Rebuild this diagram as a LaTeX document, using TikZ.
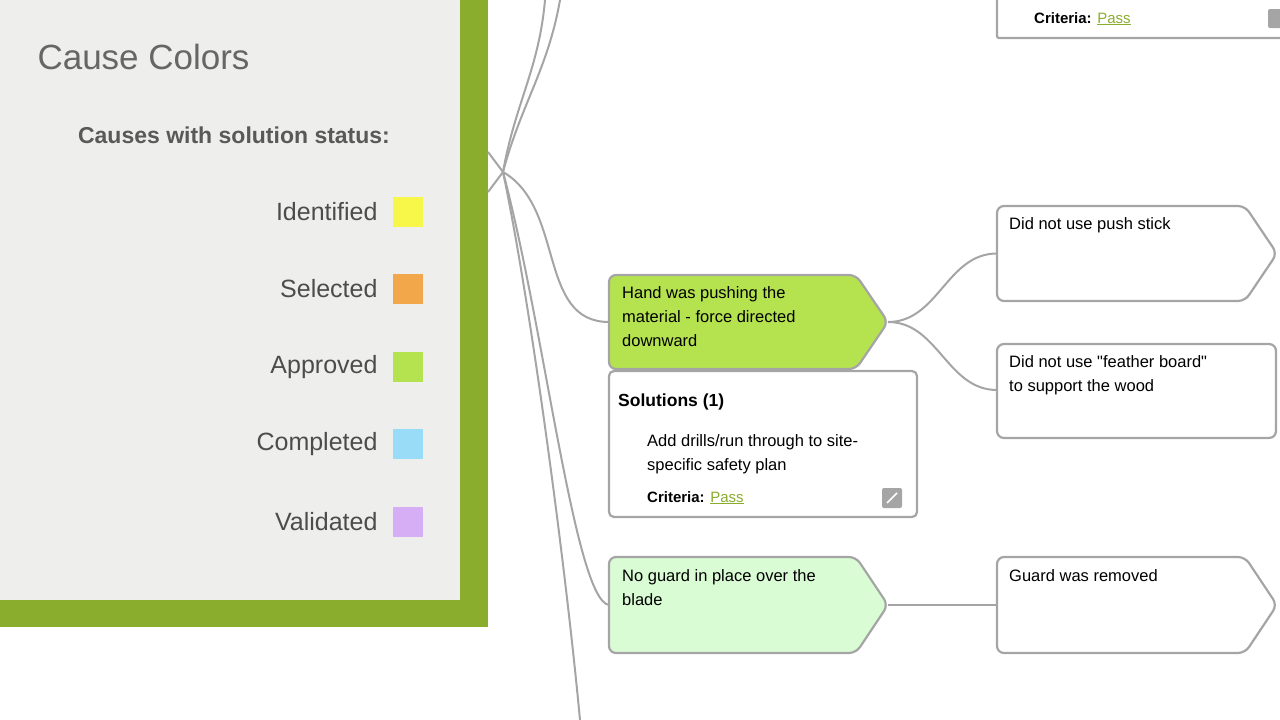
\documentclass[tikz,border=0pt]{standalone}
\usepackage{fontspec}
\setmainfont{Liberation Sans}
\usetikzlibrary{positioning}
\definecolor{panelgreen}{HTML}{8AAD2E}
\definecolor{panelgray}{HTML}{EEEFED}
\definecolor{linegray}{HTML}{A5A5A5}
\definecolor{approved}{HTML}{B5E34F}
\definecolor{lightok}{HTML}{DAFCD4}
\definecolor{passgreen}{HTML}{8AAD2E}
\newcommand{\causebox}[6]{% name, x1, y1, x2, y2, fill
  \draw[box,rounded corners=7pt,fill=#6] (#2,#3) -- (#4-32,#3) -- (#4,{(#3+#5)/2}) -- (#4-32,#5) -- (#2,#5) -- cycle;
  \coordinate (#1-in) at (#2,{(#3+#5)/2});
  \coordinate (#1-out) at (#4,{(#3+#5)/2});}
\begin{document}
\begin{tikzpicture}[x=1pt,y=-1pt,
    box/.style={draw=linegray,line width=2.2pt,rounded corners=2pt},
    txt/.style={anchor=north west,font=\fontsize{16.5}{24}\selectfont,align=left,inner sep=0pt},
    link/.style={draw=linegray,line width=2pt},
    swatch/.style={minimum size=30pt,inner sep=0pt},
    legend/.style={anchor=east,font=\fontsize{25}{28}\selectfont,text=black!70}]
\useasboundingbox (0,0) rectangle (1280,720);
% legend panel
\fill[panelgreen] (0,0) rectangle (488,627);
\fill[panelgray] (0,0) rectangle (460,600);
\node[anchor=west,font=\fontsize{35}{40}\selectfont,text=black!60] (title) at (34,57) {Cause Colors};
\node[font=\bfseries\fontsize{23}{26}\selectfont,text=black!65] (status) at (234,135) {Causes with solution status:};
\foreach \lab/\col/\yy in {Identified/F7F74A/212,Selected/F2A84A/289,Approved/B5E34F/367,Completed/99DCF7/444,Validated/D5AEF5/522}{
  \definecolor{sw}{HTML}{\col}
  \node[swatch,fill=sw] (sw-\lab) at (408,\yy) {};
  \node[legend] at (381,\yy) {\lab};
}
% top box
\draw[box] (997,-10) -- (997,38) -- (1285,38);
\node[txt,font=\bfseries\fontsize{15}{20}\selectfont] (crit0) at (1034,12) {Criteria: \textcolor{passgreen}{\mdseries\underline{Pass}}};
\fill[linegray,rounded corners=2pt] (1268,9) rectangle (1285,28);
% cause boxes
\causebox{hand}{609}{275}{888}{369}{approved}
\node[txt] (handtxt) at (622,286) {Hand was pushing the\\material - force directed\\downward};
\causebox{guard}{609}{557}{888}{653}{lightok}
\node[txt] (guardtxt) at (622,569) {No guard in place over the\\blade};
\causebox{push}{997}{206}{1277}{301}{white}
\node[txt] (pushtxt) at (1009,217) {Did not use push stick};
\draw[box,rounded corners=7pt,fill=white] (997,344) rectangle (1276,438);
\coordinate (feather-in) at (997,390);
\node[txt] (feathertxt) at (1009,355) {Did not use \textquotedbl feather board\textquotedbl\\to support the wood};
\causebox{removed}{997}{557}{1277}{653}{white}
\node[txt] (removedtxt) at (1009,569) {Guard was removed};
% solutions
\draw[box,rounded corners=5pt,fill=white] (609,371) rectangle (917,517);
\node[txt,font=\bfseries\fontsize{17.5}{22}\selectfont] (soltitle) at (618,394) {Solutions (1)};
\node[txt] (soltxt) at (647,434) {Add drills/run through to site-\\specific safety plan};
\node[txt,font=\bfseries\fontsize{15}{20}\selectfont] (crit1) at (647,491) {Criteria: \textcolor{passgreen}{\mdseries\underline{Pass}}};
\fill[linegray,rounded corners=2pt] (882,488) rectangle (902,508);
\draw[white,line width=1.5pt] (887,503) -- (897,493);
% connectors
\coordinate (hub) at (503,172);
\coordinate (up1) at (545,0);
\coordinate (up2) at (560,0);
\coordinate (down) at (580,720);
\coordinate (back1) at (488,152);
\coordinate (back2) at (488,192);
\draw[link] (hub) to[out=80,in=-95] (up1);
\draw[link] (hub) to[out=75,in=-100] (up2);
\draw[link] (hub) -- (back1);
\draw[link] (hub) -- (back2);
\draw[link] (hub) to[out=-30,in=180] (hand-in);
\draw[link] (hub) .. controls (545,330) and (575,600) .. (guard-in);
\draw[link] (hub) .. controls (530,300) and (565,560) .. (down);
\draw[link] (hand-out) to[out=0,in=180] (push-in);
\draw[link] (hand-out) to[out=0,in=180] (feather-in);
\draw[link] (guard-out) -- (removed-in);
\end{tikzpicture}
\end{document}
